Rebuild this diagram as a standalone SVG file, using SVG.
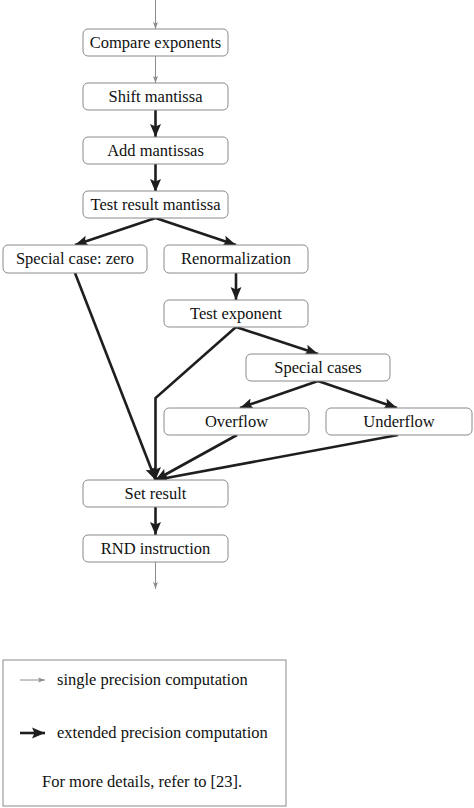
<svg xmlns="http://www.w3.org/2000/svg" width="474" height="808" viewBox="0 0 474 808" font-family="Liberation Serif" font-size="16.5">
<style>
.box{fill:#fff;stroke:#8a8a8a;stroke-width:1}
.t{fill:#111;text-anchor:middle}
.tl{fill:#111}
.thin{fill:none;stroke:#8c8c8c;stroke-width:1;marker-end:url(#ah)}
.thick{fill:none;stroke:#1e1e1e;stroke-width:2.6;marker-end:url(#AH)}
</style>
<defs>
<marker id="ah" markerUnits="userSpaceOnUse" markerWidth="8" markerHeight="6" refX="7" refY="3" orient="auto">
<path d="M0,0.5 L7,3 L0,5.5 L1.5,3 z" fill="#8c8c8c"/>
</marker>
<marker id="AH" markerUnits="userSpaceOnUse" markerWidth="14" markerHeight="12" refX="13" refY="6" orient="auto">
<path d="M0,0.5 L13,6 L0,11.5 L2.5,6 z" fill="#1e1e1e"/>
</marker>
</defs>
<g id="connectors">
<path class="thin" d="M155.5,0 L155.5,29"/>
<path class="thin" d="M155.5,56 L155.5,83"/>
<path class="thick" d="M155.5,110 L155.5,137"/>
<path class="thick" d="M155.5,164 L155.5,192"/>
<path class="thick" d="M155.5,218 L75,245"/>
<path class="thick" d="M155.5,218 L236,245"/>
<path class="thick" d="M236,273 L236,300"/>
<path class="thick" d="M236,327 L318,354"/>
<path class="thick" d="M236,327 L155.5,398 L155.5,480"/>
<path class="thick" d="M75,273 L155.5,480"/>
<path class="thick" d="M318,381 L240,408"/>
<path class="thick" d="M318,381 L397,408"/>
<path class="thick" d="M237,435 L155.5,480"/>
<path class="thick" d="M398,435 L155.5,480"/>
<path class="thick" d="M155.5,507 L155.5,535"/>
<path class="thin" d="M155.5,562 L155.5,589"/>
</g>
<g id="compare"><rect class="box" x="83" y="29" width="145" height="27" rx="5"/><text class="t" x="155.5" y="48" font-family="Liberation Serif">Compare exponents</text></g>
<g id="shift"><rect class="box" x="83" y="83" width="145" height="27" rx="5"/><text class="t" x="155.5" y="102" font-family="Liberation Serif">Shift mantissa</text></g>
<g id="add"><rect class="box" x="83" y="137" width="145" height="27" rx="5"/><text class="t" x="155.5" y="156" font-family="Liberation Serif">Add mantissas</text></g>
<g id="testresult"><rect class="box" x="83" y="191" width="145" height="27" rx="5"/><text class="t" x="155.5" y="210" font-family="Liberation Serif">Test result mantissa</text></g>
<g id="zero"><rect class="box" x="3" y="245" width="144" height="28" rx="5"/><text class="t" x="75" y="264" font-family="Liberation Serif">Special case: zero</text></g>
<g id="renorm"><rect class="box" x="164" y="245" width="144" height="28" rx="5"/><text class="t" x="236" y="264" font-family="Liberation Serif">Renormalization</text></g>
<g id="testexp"><rect class="box" x="164" y="300" width="144" height="27" rx="5"/><text class="t" x="236" y="319" font-family="Liberation Serif">Test exponent</text></g>
<g id="special"><rect class="box" x="246" y="354" width="144" height="27" rx="5"/><text class="t" x="318" y="373" font-family="Liberation Serif">Special cases</text></g>
<g id="overflow"><rect class="box" x="164" y="408" width="145" height="27" rx="5"/><text class="t" x="236.5" y="427" font-family="Liberation Serif">Overflow</text></g>
<g id="underflow"><rect class="box" x="326" y="408" width="146" height="27" rx="5"/><text class="t" x="399" y="427" font-family="Liberation Serif">Underflow</text></g>
<g id="setresult"><rect class="box" x="83" y="480" width="145" height="27" rx="5"/><text class="t" x="155.5" y="499" font-family="Liberation Serif">Set result</text></g>
<g id="rnd"><rect class="box" x="83" y="535" width="145" height="27" rx="5"/><text class="t" x="155.5" y="554" font-family="Liberation Serif">RND instruction</text></g>
<g id="legend">
<rect x="3" y="660" width="283" height="146" fill="#fff" stroke="#8a8a8a" stroke-width="1"/>
<path class="thin" d="M20,680 L45,680"/>
<text class="tl" x="57" y="685" font-family="Liberation Serif">single precision computation</text>
<path class="thick" d="M20,733 L45,733"/>
<text class="tl" x="57" y="738" font-family="Liberation Serif">extended precision computation</text>
<text class="tl" x="42" y="787" font-family="Liberation Serif">For more details, refer to [23].</text>
</g>
</svg>
